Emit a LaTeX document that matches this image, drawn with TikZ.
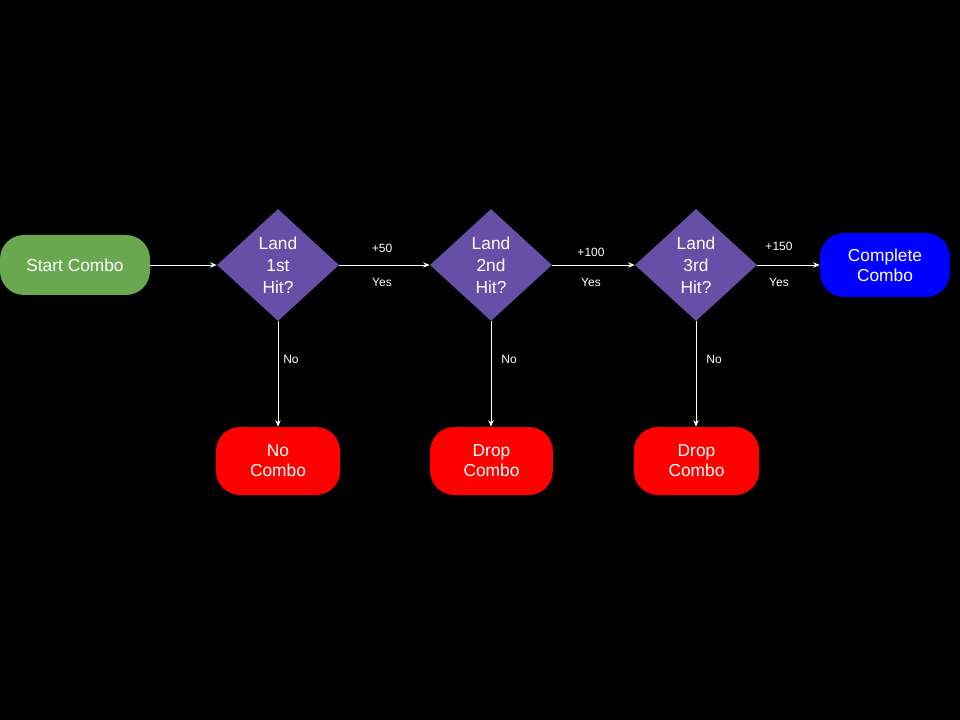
\documentclass[tikz,border=0pt]{standalone}
\usepackage{fontspec}
\setmainfont{Liberation Sans}
\usetikzlibrary{shapes.geometric,arrows.meta}
\definecolor{grn}{HTML}{6AA84F}
\definecolor{prp}{HTML}{674EA7}
\begin{document}
\begin{tikzpicture}[x=0.75pt,y=-0.75pt,
  pill/.style={draw=none,rectangle,rounded corners=18pt,text=white,font=\fontsize{13}{15}\selectfont,align=center,inner sep=0},
  dia/.style={draw=none,fill=prp,diamond,minimum width=91.5pt,minimum height=84pt,inner sep=0},
  dtxt/.style={text=white,font=\fontsize{13}{16.5}\selectfont,align=center},
  lab/.style={text=white,font=\fontsize{9}{11}\selectfont},
  arr/.style={draw=white,line width=0.6pt,-{Stealth[length=5pt,width=4pt]}}]
\fill[black] (0,0) rectangle (960,720);
\useasboundingbox (0,0) rectangle (960,720);
\node[pill,fill=grn,minimum width=112.5pt,minimum height=45pt] (s) at (75,265) {Start Combo};
\node[dia] (d1) at (278,265) {};
\node[dia] (d2) at (491,265) {};
\node[dia] (d3) at (696,265) {};
\node[dtxt] at (278,265) {Land\\1st\\Hit?};
\node[dtxt] at (491,265) {Land\\2nd\\Hit?};
\node[dtxt] at (696,265) {Land\\3rd\\Hit?};
\node[pill,fill=blue,minimum width=97.5pt,minimum height=48pt] (c) at (885,265) {Complete\\Combo};
\node[pill,fill=red,minimum width=93pt,minimum height=51pt] (r1) at (278,461) {No\\Combo};
\node[pill,fill=red,minimum width=92pt,minimum height=51pt] (r2) at (491.5,461) {Drop\\Combo};
\node[pill,fill=red,minimum width=94pt,minimum height=51pt] (r3) at (696.5,461) {Drop\\Combo};
\draw[arr] (s) -- (d1);
\draw[arr] (d1) -- (d2);
\draw[arr] (d2) -- (d3);
\draw[arr] (d3) -- (c);
\draw[arr] (d1) -- (r1);
\draw[arr] (d2) -- (r2.north -| d2);
\draw[arr] (d3) -- (r3.north -| d3);
\node[lab] at (382,248) {+50};
\node[lab] at (382,282) {Yes};
\node[lab] at (591,252) {+100};
\node[lab] at (591,282) {Yes};
\node[lab] at (779,246) {+150};
\node[lab] at (779,282) {Yes};
\node[lab] at (291,359) {No};
\node[lab] at (509,359) {No};
\node[lab] at (714,359) {No};
\end{tikzpicture}
\end{document}
